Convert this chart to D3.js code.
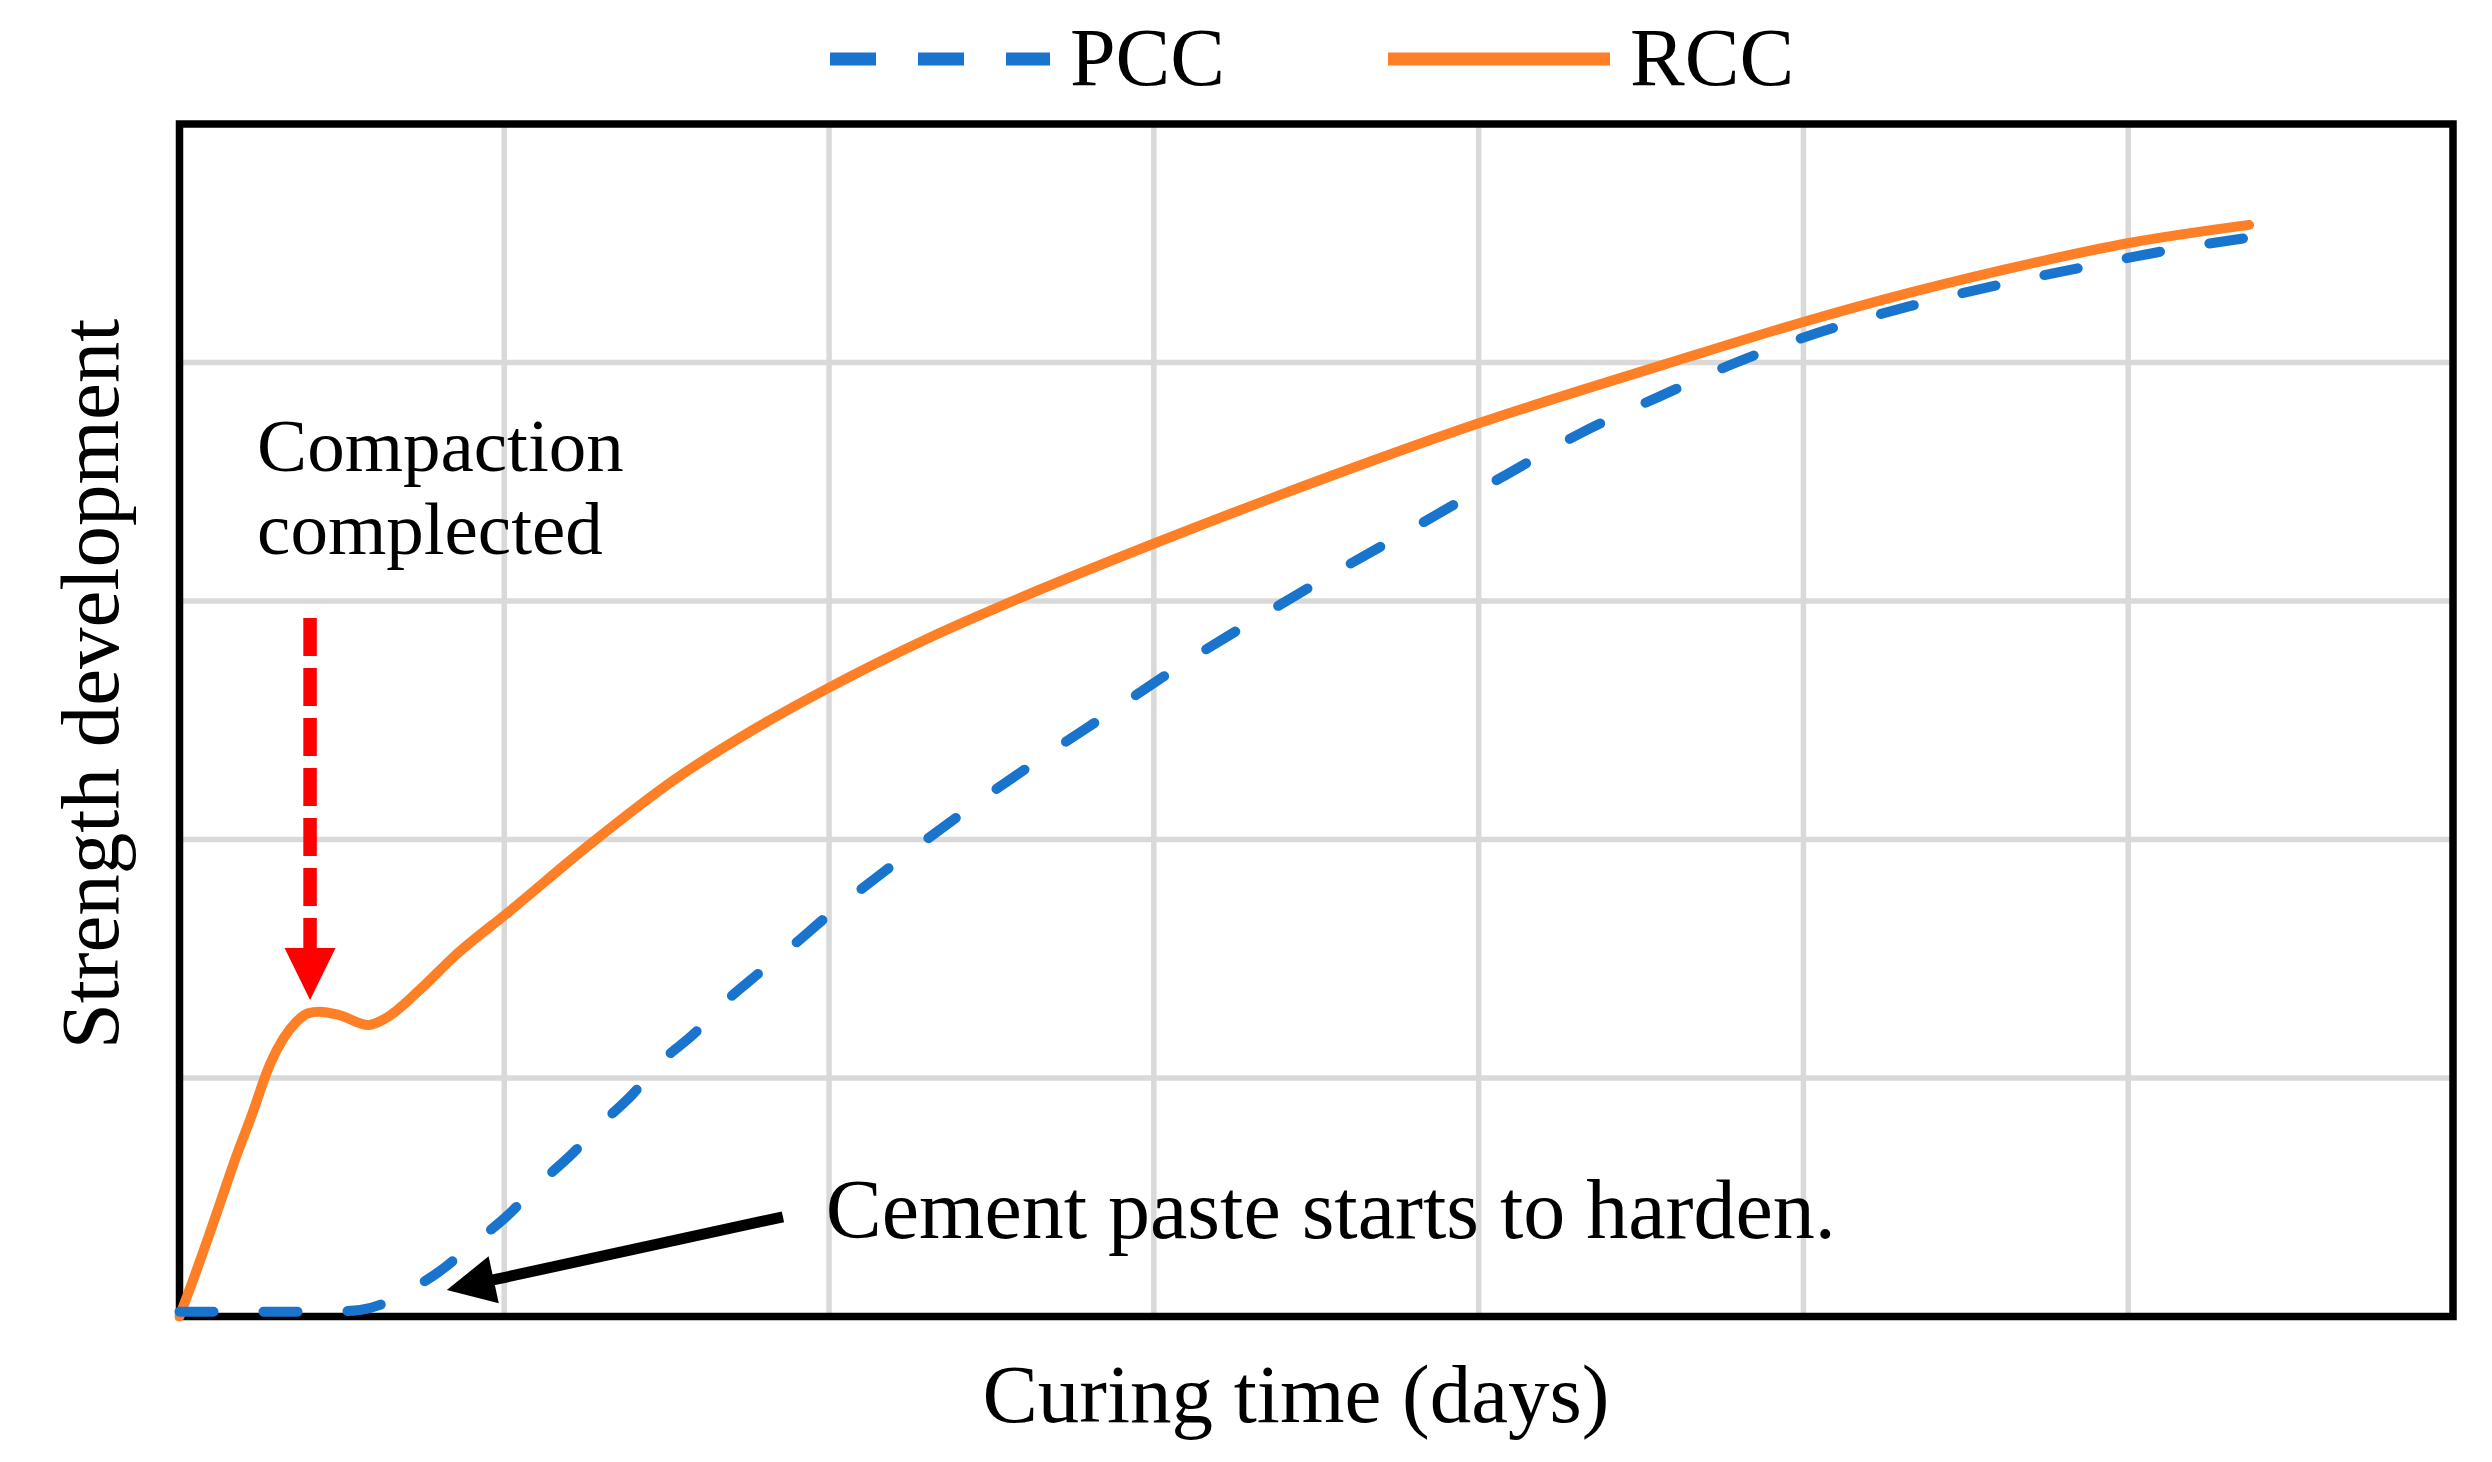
<!DOCTYPE html>
<html>
<head>
<meta charset="utf-8">
<script src="https://cdn.jsdelivr.net/npm/d3@7"></script>
<style>
  html, body { margin: 0; padding: 0; background: #fff; }
  svg { display: block; }
  text { font-family: "Liberation Serif", "Times New Roman", serif; fill: #000; }
</style>
</head>
<body>
<svg id="chart" width="2492" height="1462"></svg>
<script>
// ---- data (arbitrary units) ----
const seriesNames = ["PCC", "RCC"];
const pccX = [0, 0.3, 0.5, 0.556, 0.62, 0.685, 0.793, 0.907, 1.005, 1.110, 1.199, 1.305, 1.393, 1.482, 1.587, 1.682, 1.779, 1.894, 1.991, 2.203, 2.415, 2.645, 2.866, 3.086, 3.317, 3.547, 3.785, 4.083, 4.313, 4.556, 4.798, 5.054, 5.322, 5.577, 5.845, 6.1, 6.39];
const pccY = [0.02, 0.02, 0.022, 0.027, 0.05, 0.094, 0.182, 0.308, 0.417, 0.560, 0.669, 0.816, 0.929, 1.067, 1.189, 1.322, 1.434, 1.562, 1.675, 1.900, 2.115, 2.333, 2.533, 2.733, 2.926, 3.111, 3.295, 3.528, 3.703, 3.857, 4.003, 4.129, 4.234, 4.318, 4.395, 4.465, 4.527];
const rccX = [0, 0.042, 0.086, 0.130, 0.174, 0.219, 0.280, 0.360, 0.395, 0.43, 0.492, 0.581, 0.634, 0.740, 0.846, 1.017, 1.264, 1.523, 1.779, 2.0, 2.309, 2.592, 2.999, 3.547, 4.0, 4.568, 5.0, 5.334, 5.717, 5.998, 6.372];
const rccY = [0, 0.153, 0.321, 0.495, 0.669, 0.831, 1.062, 1.236, 1.271, 1.278, 1.264, 1.222, 1.250, 1.37, 1.51, 1.70, 1.98, 2.25, 2.47, 2.637, 2.846, 3.015, 3.24, 3.525, 3.745, 3.99, 4.17, 4.295, 4.42, 4.50, 4.577];
const xGridTicks = [1, 2, 3, 4, 5, 6];
const yGridTicks = [1, 2, 3, 4];
const xDomain = [0, 7];
const yDomain = [0, 5];
const xTitle = "Curing time (days)";
const yTitle = "Strength development";
const noteCompaction = ["Compaction", "complected"];
const noteCement = "Cement paste starts to harden.";

// ---- layout ----
const svg = d3.select("#chart");
const L = 179.5, R = 2453, T = 124, B = 1316.5;
const x = d3.scaleLinear().domain(xDomain).range([L, R]);
const y = d3.scaleLinear().domain(yDomain).range([B, T]);
const colors = { PCC: "#1874CD", RCC: "#FF7F27" };
const gridColor = "#D9D9D9";

// gridlines
const g = svg.append("g");
g.selectAll("line.vx").data(xGridTicks).join("line")
  .attr("x1", d => x(d)).attr("x2", d => x(d))
  .attr("y1", T).attr("y2", B)
  .attr("stroke", gridColor).attr("stroke-width", 5.5);
g.selectAll("line.hy").data(yGridTicks).join("line")
  .attr("x1", L).attr("x2", R)
  .attr("y1", d => y(d)).attr("y2", d => y(d))
  .attr("stroke", gridColor).attr("stroke-width", 5.5);

// frame
svg.append("rect").attr("x", L).attr("y", T).attr("width", R - L).attr("height", B - T)
  .attr("fill", "none").attr("stroke", "#000").attr("stroke-width", 7.5);

// series
const line = d3.line().x(d => x(d[0])).y(d => y(d[1])).curve(d3.curveMonotoneX);
const pcc = pccX.map((v, i) => [v, pccY[i]]);
const rcc = rccX.map((v, i) => [v, rccY[i]]);

svg.append("path").attr("d", line(rcc)).attr("fill", "none")
  .attr("stroke", colors.RCC).attr("stroke-width", 10).attr("stroke-linejoin", "round").attr("stroke-linecap", "round");
svg.append("path").attr("d", line(pcc)).attr("fill", "none")
  .attr("stroke", colors.PCC).attr("stroke-width", 10).attr("stroke-dasharray", "34,50")
  .attr("stroke-linecap", "round");

// legend
const legY = 59;
const leg = svg.append("g");
leg.append("line").attr("x1", 830).attr("x2", 1050).attr("y1", legY).attr("y2", legY)
  .attr("stroke", colors.PCC).attr("stroke-width", 13).attr("stroke-dasharray", "46,42");
leg.append("text").attr("x", 1070).attr("y", 85).attr("font-size", 82).text(seriesNames[0]);
leg.append("line").attr("x1", 1388).attr("x2", 1610).attr("y1", legY).attr("y2", legY)
  .attr("stroke", colors.RCC).attr("stroke-width", 13);
leg.append("text").attr("x", 1630).attr("y", 85).attr("font-size", 82).text(seriesNames[1]);

// axis titles
svg.append("text").attr("x", 1296).attr("y", 1422).attr("text-anchor", "middle")
  .attr("font-size", 83).text(xTitle);
svg.append("text").attr("transform", "translate(118,684) rotate(-90)").attr("text-anchor", "middle")
  .attr("font-size", 83).text(yTitle);

// annotation: compaction
svg.append("text").attr("x", x(0.239)).attr("y", y(3.543)).attr("font-size", 75).text(noteCompaction[0]);
svg.append("text").attr("x", x(0.239)).attr("y", y(3.197)).attr("font-size", 75).text(noteCompaction[1]);

// red dashed arrow
const ax = x(0.402), aTop = y(2.929), aTip = y(1.327), headLen = 52, headW = 51;
svg.append("line").attr("x1", ax).attr("x2", ax).attr("y1", aTop).attr("y2", aTip - headLen + 2)
  .attr("stroke", "#FF0000").attr("stroke-width", 13.5).attr("stroke-dasharray", "38,12");
svg.append("path")
  .attr("d", `M${ax - headW / 2},${aTip - headLen} L${ax + headW / 2},${aTip - headLen} L${ax},${aTip} Z`)
  .attr("fill", "#FF0000");

// black arrow
const tip = [x(0.823), y(0.111)], tail = [x(1.858), y(0.418)];
const dx = tail[0] - tip[0], dy = tail[1] - tip[1], len = Math.hypot(dx, dy);
const ux = dx / len, uy = dy / len, px = -uy, py = ux;
const hl = 48, hw = 24;
const base = [tip[0] + ux * hl, tip[1] + uy * hl];
svg.append("line").attr("x1", tail[0]).attr("y1", tail[1]).attr("x2", base[0] - ux * 2).attr("y2", base[1] - uy * 2)
  .attr("stroke", "#000").attr("stroke-width", 11);
svg.append("path")
  .attr("d", `M${tip[0]},${tip[1]} L${base[0] + px * hw},${base[1] + py * hw} L${base[0] - px * hw},${base[1] - py * hw} Z`)
  .attr("fill", "#000");

svg.append("text").attr("x", x(1.990)).attr("y", y(0.329)).attr("font-size", 84).text(noteCement);
</script>
</body>
</html>
